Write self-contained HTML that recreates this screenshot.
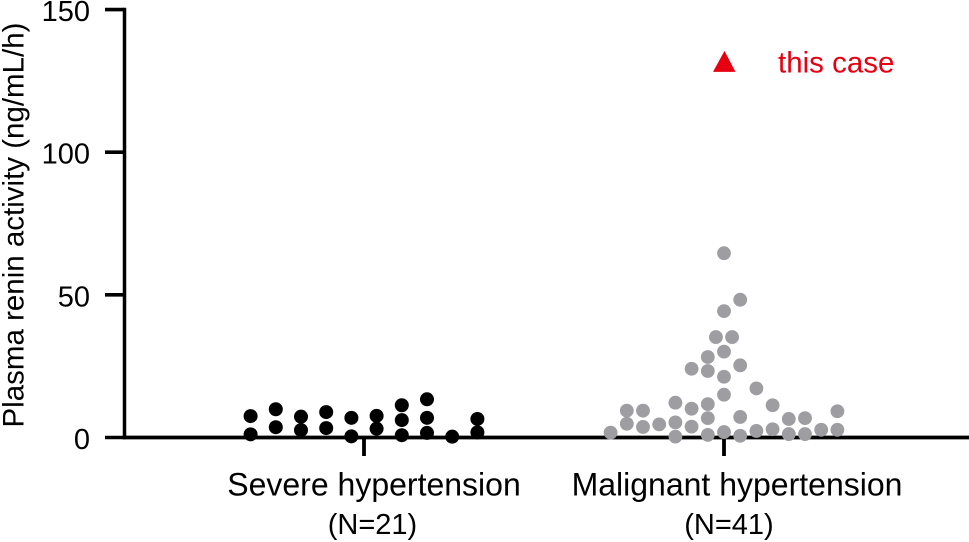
<!DOCTYPE html>
<html>
<head>
<meta charset="utf-8">
<style>
html,body{margin:0;padding:0;background:#fff;}
svg{display:block;}
text{font-family:"Liberation Sans",sans-serif;}
</style>
</head>
<body>
<svg id="chart" width="969" height="542" viewBox="0 0 969 542" xmlns="http://www.w3.org/2000/svg"></svg>
<script>
const yTicks = [0, 50, 100, 150];
const severeSlots = [-4.5,-4.5,-3.5,-3.5,-2.5,-2.5,-1.5,-1.5,-0.5,-0.5,0.5,0.5,1.5,1.5,1.5,2.5,2.5,2.5,3.5,4.5,4.5];
const severeValues = [7.5,1.1,9.9,3.6,7.3,2.6,8.9,3.3,6.9,0.4,7.6,3.1,11.3,6.1,0.8,13.4,6.9,1.6,0.3,6.5,1.8];
const malignantSlots = [-7,-6,-6,-5,-5,-4,-3,-3,-3,-2,-2,-2,-1,-1,-1,-1,-1,-0.5,0.5,0,0,0,0,0,0,1,1,1,1,2,2,3,3,4,4,5,5,6,7,7];
const malignantValues = [1.7,9.4,4.8,9.4,3.7,4.6,12.2,5.3,0.3,24.1,10.1,3.8,28.2,23.3,11.7,6.8,0.9,35.2,35.2,64.6,44.3,30.1,21.3,15,1.9,48.3,25.3,7.2,0.6,17.2,2.3,11.3,2.9,6.5,1.2,6.8,1.2,2.7,9.2,2.7];
const caseValue = [131.5];

const svg = document.getElementById('chart');
const NS = 'http://www.w3.org/2000/svg';
function y(v){ return 437.5 - v * 2.853; }
function severeX(s){ return 364 + s * 25.2; }
function malignantX(s){ return 724 + s * 16.2; }
function make(tag, attrs, txt){
  const el = document.createElementNS(NS, tag);
  for (const k in attrs) el.setAttribute(k, attrs[k]);
  if (txt !== undefined) el.textContent = txt;
  svg.appendChild(el);
  return el;
}

const yAxis = make('line', {x1:124.5, x2:124.5, y1:y(150)-1.8, y2:y(0)+1.8, stroke:'#000', 'stroke-width':3.5});



const xAxis = make('line', {x1:123, x2:969, y1:y(0), y2:y(0), stroke:'#000', 'stroke-width':3.8});



yTicks.forEach(function(t){
  const tick = make('line', {x1:105, x2:124, y1:y(t), y2:y(t), stroke:'#000', 'stroke-width':3.6});
  
  
  const label = make('text', {x:90, y:y(t)+11.5, 'text-anchor':'end', 'font-size':29, fill:'#000'}, String(t));
  
  
});

const tickSevere = make('line', {x1:364, x2:364, y1:y(0), y2:456, stroke:'#000', 'stroke-width':3.8});



const tickMalignant = make('line', {x1:724, x2:724, y1:y(0), y2:456, stroke:'#000', 'stroke-width':3.8});



severeValues.forEach(function(v, i){
  const dot = make('circle', {cx:severeX(severeSlots[i]), cy:y(v), r:7, fill:'#000'});
  
  
});

malignantValues.forEach(function(v, i){
  const dot = make('circle', {cx:malignantX(malignantSlots[i]), cy:y(v), r:6.9, fill:'#9d9da2'});
  
  
});

caseValue.forEach(function(v){
  const cy = y(v);
  const tri = make('polygon', {points:[[724.5,cy-11.5],[713,cy+9.5],[735.5,cy+9.5]].join(' '), fill:'#e60012'});
  
  
});
</script>
<script>
(function(){
  const s = document.getElementById('chart');
  const N = 'http://www.w3.org/2000/svg';
  function t(attrs, txt){
    const el = document.createElementNS(N, 'text');
    for (const k in attrs) el.setAttribute(k, attrs[k]);
    el.textContent = txt;
    s.appendChild(el);
    return el;
  }
  const a = t({x:0, y:0, transform:'translate(23.5 427.5) rotate(-90)', 'font-size':29.5, fill:'#000'}, 'Plasma renin activity (ng/mL/h)');
  
  
  const b = t({x:374, y:495.5, 'text-anchor':'middle', 'font-size':32, fill:'#000'}, 'Severe hypertension');
  
  
  const c = t({x:372.5, y:534, 'text-anchor':'middle', 'font-size':29, fill:'#000'}, '(N=21)');
  
  
  const d = t({x:737, y:495.5, 'text-anchor':'middle', 'font-size':32, fill:'#000'}, 'Malignant hypertension');
  
  
  const e = t({x:729, y:534, 'text-anchor':'middle', 'font-size':29, fill:'#000'}, '(N=41)');
  
  
  const f = t({x:778, y:72.5, 'font-size':29.5, fill:'#e60012'}, 'this case');
  
  
})();
</script>
</body>
</html>
